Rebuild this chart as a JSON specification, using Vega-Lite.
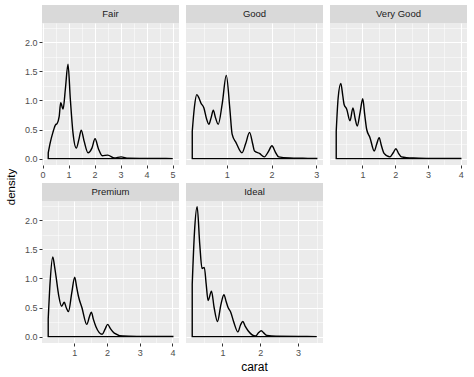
{
  "$schema": "https://vega.github.io/schema/vega-lite/v6.json",
  "padding": {"left": 6, "top": 5, "right": 0, "bottom": 0},
  "background": "white",
  "config": {
    "font": "Liberation Sans",
    "view": {"stroke": null},
    "axis": {"domain": false, "tickColor": "#333333", "tickSize": 3, "labelColor": "#4D4D4D", "labelFontSize": 9, "labelPadding": 2, "gridColor": "#FFFFFF", "gridWidth": 1.1, "gridOpacity": 1, "labelFlush": false}
  },
  "datasets": {
    "dens": [
      {"cut":"Fair","carat":0.22,"density":0.10},{"cut":"Fair","carat":0.30,"density":0.28},{"cut":"Fair","carat":0.40,"density":0.45},{"cut":"Fair","carat":0.50,"density":0.58},{"cut":"Fair","carat":0.56,"density":0.60},{"cut":"Fair","carat":0.64,"density":0.72},{"cut":"Fair","carat":0.70,"density":0.96},{"cut":"Fair","carat":0.79,"density":0.85},{"cut":"Fair","carat":0.88,"density":1.20},{"cut":"Fair","carat":0.98,"density":1.62},{"cut":"Fair","carat":1.07,"density":1.02},{"cut":"Fair","carat":1.17,"density":0.45},{"cut":"Fair","carat":1.30,"density":0.18},{"cut":"Fair","carat":1.40,"density":0.33},{"cut":"Fair","carat":1.49,"density":0.49},{"cut":"Fair","carat":1.60,"density":0.30},{"cut":"Fair","carat":1.75,"density":0.10},{"cut":"Fair","carat":1.90,"density":0.18},{"cut":"Fair","carat":2.02,"density":0.34},{"cut":"Fair","carat":2.15,"density":0.17},{"cut":"Fair","carat":2.30,"density":0.05},{"cut":"Fair","carat":2.51,"density":0.06},{"cut":"Fair","carat":2.77,"density":0.01},{"cut":"Fair","carat":3.02,"density":0.03},{"cut":"Fair","carat":3.30,"density":0.005},{"cut":"Fair","carat":4.00,"density":0.003},{"cut":"Fair","carat":4.50,"density":0.001},{"cut":"Fair","carat":5.01,"density":0.0},
      {"cut":"Good","carat":0.23,"density":0.47},{"cut":"Good","carat":0.28,"density":0.90},{"cut":"Good","carat":0.33,"density":1.10},{"cut":"Good","carat":0.38,"density":1.04},{"cut":"Good","carat":0.42,"density":0.96},{"cut":"Good","carat":0.49,"density":0.87},{"cut":"Good","carat":0.55,"density":0.68},{"cut":"Good","carat":0.60,"density":0.59},{"cut":"Good","carat":0.65,"density":0.70},{"cut":"Good","carat":0.70,"density":0.83},{"cut":"Good","carat":0.75,"density":0.70},{"cut":"Good","carat":0.81,"density":0.59},{"cut":"Good","carat":0.90,"density":0.95},{"cut":"Good","carat":0.99,"density":1.43},{"cut":"Good","carat":1.07,"density":0.85},{"cut":"Good","carat":1.12,"density":0.42},{"cut":"Good","carat":1.21,"density":0.27},{"cut":"Good","carat":1.34,"density":0.10},{"cut":"Good","carat":1.42,"density":0.25},{"cut":"Good","carat":1.51,"density":0.45},{"cut":"Good","carat":1.58,"density":0.25},{"cut":"Good","carat":1.62,"density":0.13},{"cut":"Good","carat":1.73,"density":0.09},{"cut":"Good","carat":1.84,"density":0.03},{"cut":"Good","carat":1.93,"density":0.12},{"cut":"Good","carat":2.01,"density":0.22},{"cut":"Good","carat":2.08,"density":0.12},{"cut":"Good","carat":2.16,"density":0.03},{"cut":"Good","carat":2.40,"density":0.01},{"cut":"Good","carat":2.70,"density":0.005},{"cut":"Good","carat":3.01,"density":0.002},
      {"cut":"Very Good","carat":0.20,"density":0.47},{"cut":"Very Good","carat":0.26,"density":1.05},{"cut":"Very Good","carat":0.34,"density":1.29},{"cut":"Very Good","carat":0.40,"density":1.08},{"cut":"Very Good","carat":0.44,"density":0.93},{"cut":"Very Good","carat":0.52,"density":0.85},{"cut":"Very Good","carat":0.62,"density":0.65},{"cut":"Very Good","carat":0.71,"density":0.87},{"cut":"Very Good","carat":0.78,"density":0.68},{"cut":"Very Good","carat":0.84,"density":0.56},{"cut":"Very Good","carat":0.93,"density":0.80},{"cut":"Very Good","carat":1.01,"density":1.03},{"cut":"Very Good","carat":1.07,"density":0.75},{"cut":"Very Good","carat":1.13,"density":0.50},{"cut":"Very Good","carat":1.23,"density":0.36},{"cut":"Very Good","carat":1.36,"density":0.13},{"cut":"Very Good","carat":1.44,"density":0.26},{"cut":"Very Good","carat":1.51,"density":0.36},{"cut":"Very Good","carat":1.58,"density":0.22},{"cut":"Very Good","carat":1.66,"density":0.09},{"cut":"Very Good","carat":1.84,"density":0.03},{"cut":"Very Good","carat":1.94,"density":0.10},{"cut":"Very Good","carat":2.02,"density":0.17},{"cut":"Very Good","carat":2.10,"density":0.09},{"cut":"Very Good","carat":2.19,"density":0.03},{"cut":"Very Good","carat":2.55,"density":0.01},{"cut":"Very Good","carat":3.00,"density":0.004},{"cut":"Very Good","carat":3.50,"density":0.002},{"cut":"Very Good","carat":4.00,"density":0.001},
      {"cut":"Premium","carat":0.20,"density":0.30},{"cut":"Premium","carat":0.26,"density":0.95},{"cut":"Premium","carat":0.34,"density":1.37},{"cut":"Premium","carat":0.39,"density":1.22},{"cut":"Premium","carat":0.44,"density":1.03},{"cut":"Premium","carat":0.52,"density":0.71},{"cut":"Premium","carat":0.61,"density":0.52},{"cut":"Premium","carat":0.69,"density":0.59},{"cut":"Premium","carat":0.75,"density":0.50},{"cut":"Premium","carat":0.82,"density":0.43},{"cut":"Premium","carat":0.92,"density":0.75},{"cut":"Premium","carat":1.01,"density":1.02},{"cut":"Premium","carat":1.07,"density":0.85},{"cut":"Premium","carat":1.13,"density":0.68},{"cut":"Premium","carat":1.23,"density":0.50},{"cut":"Premium","carat":1.38,"density":0.21},{"cut":"Premium","carat":1.46,"density":0.34},{"cut":"Premium","carat":1.52,"density":0.42},{"cut":"Premium","carat":1.58,"density":0.30},{"cut":"Premium","carat":1.66,"density":0.17},{"cut":"Premium","carat":1.85,"density":0.04},{"cut":"Premium","carat":1.94,"density":0.13},{"cut":"Premium","carat":2.02,"density":0.21},{"cut":"Premium","carat":2.10,"density":0.14},{"cut":"Premium","carat":2.22,"density":0.06},{"cut":"Premium","carat":2.48,"density":0.01},{"cut":"Premium","carat":3.00,"density":0.004},{"cut":"Premium","carat":3.50,"density":0.002},{"cut":"Premium","carat":4.01,"density":0.001},
      {"cut":"Ideal","carat":0.20,"density":0.90},{"cut":"Ideal","carat":0.26,"density":1.80},{"cut":"Ideal","carat":0.33,"density":2.23},{"cut":"Ideal","carat":0.40,"density":1.58},{"cut":"Ideal","carat":0.46,"density":1.17},{"cut":"Ideal","carat":0.52,"density":1.19},{"cut":"Ideal","carat":0.57,"density":0.90},{"cut":"Ideal","carat":0.62,"density":0.62},{"cut":"Ideal","carat":0.71,"density":0.78},{"cut":"Ideal","carat":0.78,"density":0.50},{"cut":"Ideal","carat":0.87,"density":0.26},{"cut":"Ideal","carat":0.96,"density":0.55},{"cut":"Ideal","carat":1.04,"density":0.72},{"cut":"Ideal","carat":1.10,"density":0.60},{"cut":"Ideal","carat":1.15,"density":0.50},{"cut":"Ideal","carat":1.22,"density":0.42},{"cut":"Ideal","carat":1.30,"density":0.25},{"cut":"Ideal","carat":1.41,"density":0.08},{"cut":"Ideal","carat":1.48,"density":0.20},{"cut":"Ideal","carat":1.54,"density":0.26},{"cut":"Ideal","carat":1.61,"density":0.17},{"cut":"Ideal","carat":1.68,"density":0.10},{"cut":"Ideal","carat":1.88,"density":0.01},{"cut":"Ideal","carat":1.96,"density":0.07},{"cut":"Ideal","carat":2.03,"density":0.10},{"cut":"Ideal","carat":2.10,"density":0.06},{"cut":"Ideal","carat":2.18,"density":0.02},{"cut":"Ideal","carat":2.42,"density":0.005},{"cut":"Ideal","carat":3.00,"density":0.002},{"cut":"Ideal","carat":3.50,"density":0.0}
    ]
  },
  "spacing": 6,
  "hconcat": [
    {
      "width": 12, "height": 364, "view": {"stroke": null},
      "data": {"values": [{"t": "density"}]},
      "mark": {"type": "text", "angle": 270, "fontSize": 11.5, "color": "#000000"},
      "encoding": {"text": {"field": "t"}}
    },
    {
      "spacing": 4,
      "vconcat": [
        {
          "spacing": 7,
          "hconcat": [
            {
              "spacing": 0, "bounds": "flush",
              "vconcat": [
                {"width": 137, "height": 18, "view": {"fill": "#D9D9D9", "stroke": null}, "data": {"values": [{"label": "Fair"}]}, "mark": {"type": "text", "fontSize": 9.5, "color": "#1A1A1A"}, "encoding": {"text": {"field": "label"}}},
                {"width": 137, "height": 142, "view": {"fill": "#EBEBEB", "stroke": null}, "data": {"name": "dens"}, "transform": [{"filter": "datum.cut === 'Fair'"}],
                  "layer": [
                    {"mark": {"type": "area", "opacity": 0}, "encoding": {
                      "x": {"field": "carat", "type": "quantitative", "scale": {"domain": [-0.02, 5.25], "nice": false, "zero": false}, "axis": {"values": [0.5, 1.5, 2.5, 3.5, 4.5], "labels": false, "ticks": false, "title": null, "grid": true, "gridWidth": 0.5, "orient": "bottom"}},
                      "y": {"field": "density", "type": "quantitative", "scale": {"domain": [-0.11, 2.33], "nice": false}, "axis": {"values": [0.25, 0.75, 1.25, 1.75, 2.25], "labels": false, "ticks": false, "title": null, "grid": true, "gridWidth": 0.5, "orient": "left"}}}},
                    {"mark": {"type": "area", "interpolate": "monotone", "fill": "transparent", "stroke": "#000000", "strokeWidth": 1.4}, "encoding": {
                      "x": {"field": "carat", "type": "quantitative", "scale": {"domain": [-0.02, 5.25], "nice": false, "zero": false}, "axis": {"values": [0, 1, 2, 3, 4, 5], "title": null, "grid": true, "orient": "bottom"}},
                      "y": {"field": "density", "type": "quantitative", "scale": {"domain": [-0.11, 2.33], "nice": false}, "axis": {"values": [0, 0.5, 1, 1.5, 2], "format": ".1f", "title": null, "grid": true, "orient": "left"}}}}
                  ],
                  "resolve": {"axis": {"x": "independent", "y": "independent"}}
                }
              ]
            },
            {
              "spacing": 0, "bounds": "flush",
              "vconcat": [
                {"width": 137, "height": 18, "view": {"fill": "#D9D9D9", "stroke": null}, "data": {"values": [{"label": "Good"}]}, "mark": {"type": "text", "fontSize": 9.5, "color": "#1A1A1A"}, "encoding": {"text": {"field": "label"}}},
                {"width": 137, "height": 142, "view": {"fill": "#EBEBEB", "stroke": null}, "data": {"name": "dens"}, "transform": [{"filter": "datum.cut === 'Good'"}],
                  "layer": [
                    {"mark": {"type": "area", "opacity": 0}, "encoding": {
                      "x": {"field": "carat", "type": "quantitative", "scale": {"domain": [0.09, 3.15], "nice": false, "zero": false}, "axis": {"values": [0.5, 1.5, 2.5], "labels": false, "ticks": false, "title": null, "grid": true, "gridWidth": 0.5, "orient": "bottom"}},
                      "y": {"field": "density", "type": "quantitative", "scale": {"domain": [-0.11, 2.33], "nice": false}, "axis": {"values": [0.25, 0.75, 1.25, 1.75, 2.25], "labels": false, "ticks": false, "title": null, "grid": true, "gridWidth": 0.5, "orient": "left"}}}},
                    {"mark": {"type": "area", "interpolate": "monotone", "fill": "transparent", "stroke": "#000000", "strokeWidth": 1.4}, "encoding": {
                      "x": {"field": "carat", "type": "quantitative", "scale": {"domain": [0.09, 3.15], "nice": false, "zero": false}, "axis": {"values": [1, 2, 3], "title": null, "grid": true, "orient": "bottom"}},
                      "y": {"field": "density", "type": "quantitative", "scale": {"domain": [-0.11, 2.33], "nice": false}, "axis": {"values": [0, 0.5, 1, 1.5, 2], "labels": false, "ticks": false, "title": null, "grid": true, "orient": "left"}}}}
                  ],
                  "resolve": {"axis": {"x": "independent", "y": "independent"}}
                }
              ]
            },
            {
              "spacing": 0, "bounds": "flush",
              "vconcat": [
                {"width": 137, "height": 18, "view": {"fill": "#D9D9D9", "stroke": null}, "data": {"values": [{"label": "Very Good"}]}, "mark": {"type": "text", "fontSize": 9.5, "color": "#1A1A1A"}, "encoding": {"text": {"field": "label"}}},
                {"width": 137, "height": 142, "view": {"fill": "#EBEBEB", "stroke": null}, "data": {"name": "dens"}, "transform": [{"filter": "datum.cut === 'Very Good'"}],
                  "layer": [
                    {"mark": {"type": "area", "opacity": 0}, "encoding": {
                      "x": {"field": "carat", "type": "quantitative", "scale": {"domain": [0.01, 4.19], "nice": false, "zero": false}, "axis": {"values": [0.5, 1.5, 2.5, 3.5], "labels": false, "ticks": false, "title": null, "grid": true, "gridWidth": 0.5, "orient": "bottom"}},
                      "y": {"field": "density", "type": "quantitative", "scale": {"domain": [-0.11, 2.33], "nice": false}, "axis": {"values": [0.25, 0.75, 1.25, 1.75, 2.25], "labels": false, "ticks": false, "title": null, "grid": true, "gridWidth": 0.5, "orient": "left"}}}},
                    {"mark": {"type": "area", "interpolate": "monotone", "fill": "transparent", "stroke": "#000000", "strokeWidth": 1.4}, "encoding": {
                      "x": {"field": "carat", "type": "quantitative", "scale": {"domain": [0.01, 4.19], "nice": false, "zero": false}, "axis": {"values": [1, 2, 3, 4], "title": null, "grid": true, "orient": "bottom"}},
                      "y": {"field": "density", "type": "quantitative", "scale": {"domain": [-0.11, 2.33], "nice": false}, "axis": {"values": [0, 0.5, 1, 1.5, 2], "labels": false, "ticks": false, "title": null, "grid": true, "orient": "left"}}}}
                  ],
                  "resolve": {"axis": {"x": "independent", "y": "independent"}}
                }
              ]
            }
          ]
        },
        {
          "spacing": 7,
          "hconcat": [
            {
              "spacing": 0, "bounds": "flush",
              "vconcat": [
                {"width": 137, "height": 18, "view": {"fill": "#D9D9D9", "stroke": null}, "data": {"values": [{"label": "Premium"}]}, "mark": {"type": "text", "fontSize": 9.5, "color": "#1A1A1A"}, "encoding": {"text": {"field": "label"}}},
                {"width": 137, "height": 142, "view": {"fill": "#EBEBEB", "stroke": null}, "data": {"name": "dens"}, "transform": [{"filter": "datum.cut === 'Premium'"}],
                  "layer": [
                    {"mark": {"type": "area", "opacity": 0}, "encoding": {
                      "x": {"field": "carat", "type": "quantitative", "scale": {"domain": [0.01, 4.2], "nice": false, "zero": false}, "axis": {"values": [0.5, 1.5, 2.5, 3.5], "labels": false, "ticks": false, "title": null, "grid": true, "gridWidth": 0.5, "orient": "bottom"}},
                      "y": {"field": "density", "type": "quantitative", "scale": {"domain": [-0.11, 2.33], "nice": false}, "axis": {"values": [0.25, 0.75, 1.25, 1.75, 2.25], "labels": false, "ticks": false, "title": null, "grid": true, "gridWidth": 0.5, "orient": "left"}}}},
                    {"mark": {"type": "area", "interpolate": "monotone", "fill": "transparent", "stroke": "#000000", "strokeWidth": 1.4}, "encoding": {
                      "x": {"field": "carat", "type": "quantitative", "scale": {"domain": [0.01, 4.2], "nice": false, "zero": false}, "axis": {"values": [1, 2, 3, 4], "title": null, "grid": true, "orient": "bottom"}},
                      "y": {"field": "density", "type": "quantitative", "scale": {"domain": [-0.11, 2.33], "nice": false}, "axis": {"values": [0, 0.5, 1, 1.5, 2], "format": ".1f", "title": null, "grid": true, "orient": "left"}}}}
                  ],
                  "resolve": {"axis": {"x": "independent", "y": "independent"}}
                }
              ]
            },
            {
              "spacing": 0, "bounds": "flush",
              "vconcat": [
                {"width": 137, "height": 18, "view": {"fill": "#D9D9D9", "stroke": null}, "data": {"values": [{"label": "Ideal"}]}, "mark": {"type": "text", "fontSize": 9.5, "color": "#1A1A1A"}, "encoding": {"text": {"field": "label"}}},
                {"width": 137, "height": 142, "view": {"fill": "#EBEBEB", "stroke": null}, "data": {"name": "dens"}, "transform": [{"filter": "datum.cut === 'Ideal'"}],
                  "layer": [
                    {"mark": {"type": "area", "opacity": 0}, "encoding": {
                      "x": {"field": "carat", "type": "quantitative", "scale": {"domain": [0.035, 3.665], "nice": false, "zero": false}, "axis": {"values": [0.5, 1.5, 2.5, 3.5], "labels": false, "ticks": false, "title": null, "grid": true, "gridWidth": 0.5, "orient": "bottom"}},
                      "y": {"field": "density", "type": "quantitative", "scale": {"domain": [-0.11, 2.33], "nice": false}, "axis": {"values": [0.25, 0.75, 1.25, 1.75, 2.25], "labels": false, "ticks": false, "title": null, "grid": true, "gridWidth": 0.5, "orient": "left"}}}},
                    {"mark": {"type": "area", "interpolate": "monotone", "fill": "transparent", "stroke": "#000000", "strokeWidth": 1.4}, "encoding": {
                      "x": {"field": "carat", "type": "quantitative", "scale": {"domain": [0.035, 3.665], "nice": false, "zero": false}, "axis": {"values": [1, 2, 3], "title": null, "grid": true, "orient": "bottom"}},
                      "y": {"field": "density", "type": "quantitative", "scale": {"domain": [-0.11, 2.33], "nice": false}, "axis": {"values": [0, 0.5, 1, 1.5, 2], "labels": false, "ticks": false, "title": null, "grid": true, "orient": "left"}}}}
                  ],
                  "resolve": {"axis": {"x": "independent", "y": "independent"}}
                }
              ]
            }
          ]
        },
        {
          "width": 425, "height": 10, "view": {"stroke": null},
          "data": {"values": [{"t": "carat"}]},
          "mark": {"type": "text", "fontSize": 12, "color": "#000000"},
          "encoding": {"text": {"field": "t"}}
        }
      ]
    }
  ]
}
